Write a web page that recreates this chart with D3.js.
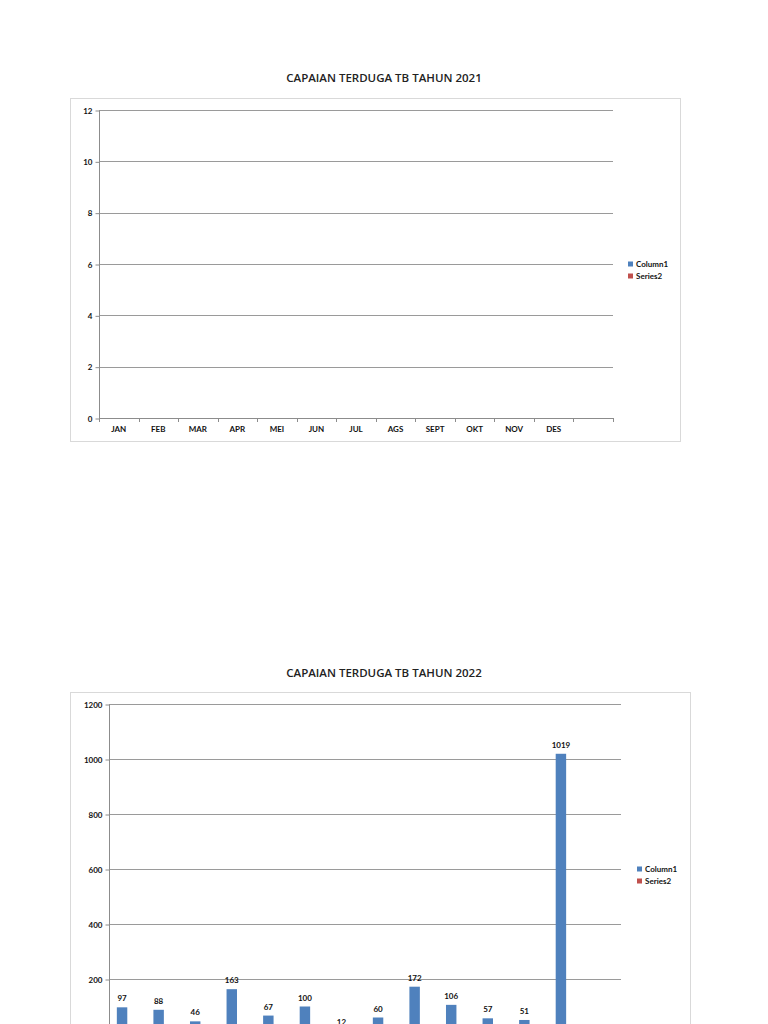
<!DOCTYPE html>
<html>
<head>
<meta charset="utf-8">
<script src="https://cdn.jsdelivr.net/npm/d3@7"></script>
<style>
  html, body { margin: 0; padding: 0; background: #fff; }
  svg { display: block; }
</style>
</head>
<body>
<script>
// ---------- data ----------
const categories2021 = ["JAN","FEB","MAR","APR","MEI","JUN","JUL","AGS","SEPT","OKT","NOV","DES",""];
const column1_2021 = [null,null,null,null,null,null,null,null,null,null,null,null,null];
const series2_2021 = [null,null,null,null,null,null,null,null,null,null,null,null,null];
const yTicks2021 = [0,2,4,6,8,10,12];

const categories2022 = ["JAN","FEB","MAR","APR","MEI","JUN","JUL","AGS","SEPT","OKT","NOV","DES","TOTAL",""];
const column1_2022 = [97,88,46,163,67,100,12,60,172,106,57,51,1019,null];
const series2_2022 = [null,null,null,null,null,null,null,null,null,null,null,null,null,null];
const yTicks2022 = [0,200,400,600,800,1000,1200];

const seriesNames = ["Column1","Series2"];
const seriesColors = ["#4F81BD","#C0504D"];

// ---------- drawing ----------
const svg = d3.select("body").append("svg").attr("width",768).attr("height",1024);
svg.append("rect").attr("width",768).attr("height",1024).attr("fill","#fff");

function drawChart(cfg){
  const g = svg.append("g");
  // title
  g.append("text").attr("x",384).attr("y",cfg.titleY)
    .attr("text-anchor","middle").attr("font-family","'Open Sans', sans-serif")
    .attr("font-size","11.5px").attr("font-weight",600).attr("fill","#222")
    .text(cfg.title);
  // frame
  g.append("rect").attr("x",cfg.frame[0]+0.5).attr("y",cfg.frame[1]+0.5)
    .attr("width",cfg.frame[2]-cfg.frame[0]).attr("height",cfg.frame[3]-cfg.frame[1])
    .attr("fill","#fff").attr("stroke","#d9d9d9").attr("stroke-width",1);

  const x = d3.scaleBand().domain(cfg.categories.map((c,i)=>i)).range([cfg.left,cfg.right]).padding(0);
  const xs = d3.scaleBand().domain(seriesNames).range([0,x.bandwidth()]).paddingInner(0).paddingOuter(0.75);
  const y = d3.scaleLinear().domain([0,cfg.yMax]).range([cfg.bottom,cfg.top]);

  // gridlines
  g.append("g").selectAll("line").data(cfg.yTicks.filter(t=>t>0)).join("line")
    .attr("x1",cfg.left).attr("x2",cfg.right)
    .attr("y1",d=>Math.round(y(d))+0.5).attr("y2",d=>Math.round(y(d))+0.5)
    .attr("stroke","#9a9a9a").attr("stroke-width",1);

  // y axis
  const yAxis = d3.axisLeft(y).tickValues(cfg.yTicks).tickFormat(d3.format("d")).tickSize(4).tickPadding(3);
  const ya = g.append("g").attr("transform",`translate(${cfg.left+0.5},0.5)`).call(yAxis);
  ya.select(".domain").attr("stroke","#8c8c8c").attr("d",`M-0,${cfg.top}V${cfg.bottom}`);
  ya.selectAll(".tick line").attr("stroke","#8c8c8c");
  ya.selectAll(".tick text").attr("font-family","Lato, sans-serif").attr("font-size","8px")
    .attr("font-weight",700).attr("fill","#111");

  // x axis
  const boundaries = d3.range(cfg.categories.length+1).map(i=>cfg.left + i*x.bandwidth());
  const xa = g.append("g");
  xa.append("line").attr("x1",cfg.left).attr("x2",cfg.right)
    .attr("y1",cfg.bottom+0.5).attr("y2",cfg.bottom+0.5).attr("stroke","#8c8c8c");
  xa.selectAll("line.tk").data(boundaries).join("line").attr("class","tk")
    .attr("x1",d=>Math.round(d)+0.5).attr("x2",d=>Math.round(d)+0.5)
    .attr("y1",cfg.bottom).attr("y2",cfg.bottom+4).attr("stroke","#8c8c8c");
  xa.selectAll("text").data(cfg.categories).join("text")
    .attr("x",(d,i)=>x(i)+x.bandwidth()/2).attr("y",cfg.bottom+14)
    .attr("text-anchor","middle").attr("font-family","Lato, sans-serif")
    .attr("font-size","8px").attr("font-weight",700).attr("fill","#111")
    .text(d=>d);

  // bars
  const rows = [];
  cfg.categories.forEach((c,i)=>{
    seriesNames.forEach((s,j)=>{
      const v = cfg.values[j][i];
      if (v !== null && v !== undefined) rows.push({i, s, j, v});
    });
  });
  g.append("g").selectAll("rect").data(rows).join("rect")
    .attr("x",d=>x(d.i)+xs(d.s)).attr("width",xs.bandwidth())
    .attr("y",d=>y(d.v)).attr("height",d=>y(0)-y(d.v))
    .attr("fill",d=>seriesColors[d.j]);
  g.append("g").selectAll("text").data(rows).join("text")
    .attr("x",d=>x(d.i)+xs(d.s)+xs.bandwidth()/2).attr("y",d=>y(d.v)-6)
    .attr("text-anchor","middle").attr("font-family","Lato, sans-serif")
    .attr("font-size","8px").attr("font-weight",700).attr("fill","#111")
    .text(d=>d.v);

  // legend
  const lg = g.append("g").attr("transform",`translate(${cfg.legend[0]},${cfg.legend[1]})`);
  seriesNames.forEach((s,j)=>{
    lg.append("rect").attr("x",0).attr("y",j*12-2.5).attr("width",5).attr("height",5).attr("fill",seriesColors[j]);
    lg.append("text").attr("x",8).attr("y",j*12).attr("dy","0.35em")
      .attr("font-family","Lato, sans-serif").attr("font-size","8px").attr("font-weight",700)
      .attr("fill","#111").text(s);
  });
}

drawChart({
  title:"CAPAIAN TERDUGA TB TAHUN 2021", titleY:82,
  frame:[70,98,680,441],
  left:99, right:613, top:110, bottom:418,
  yMax:12, yTicks:yTicks2021, categories:categories2021,
  values:[column1_2021, series2_2021],
  legend:[628,264]
});

drawChart({
  title:"CAPAIAN TERDUGA TB TAHUN 2022", titleY:677,
  frame:[70,692,690,1100],
  left:109, right:621, top:704, bottom:1034,
  yMax:1200, yTicks:yTicks2022, categories:categories2022,
  values:[column1_2022, series2_2022],
  legend:[637,869]
});
</script>
</body>
</html>
